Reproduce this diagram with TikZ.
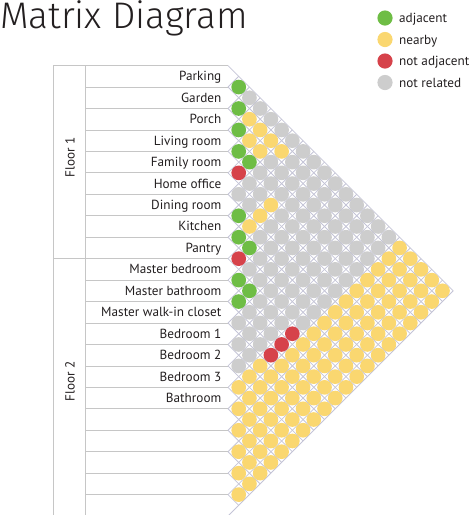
\documentclass[tikz,border=0pt]{standalone}
\usepackage{fontspec}
\setmainfont{PT Sans}
\IfFontExistsTF{Fira Sans Light}{\newfontfamily\titlefont{Fira Sans Light}}{%
  \IfFontExistsTF{Lato Light}{\newfontfamily\titlefont{Lato Light}}{\newfontfamily\titlefont{Liberation Sans}}}
\definecolor{cgreen}{RGB}{110,189,69}
\definecolor{cyellow}{RGB}{250,215,112}
\definecolor{cred}{RGB}{214,66,74}
\definecolor{cgray}{RGB}{205,205,205}
\definecolor{gline}{RGB}{196,196,214}
\definecolor{pline}{RGB}{198,198,198}
\definecolor{ink}{RGB}{35,31,32}
\newcommand\setcell[3]{\expandafter\def\csname cc@#1@#2\endcsname{#3}}
% adjacent
\setcell{0}{1}{cgreen}\setcell{1}{2}{cgreen}\setcell{2}{3}{cgreen}\setcell{3}{4}{cgreen}
\setcell{3}{5}{cgreen}\setcell{6}{7}{cgreen}\setcell{7}{8}{cgreen}\setcell{7}{9}{cgreen}
\setcell{9}{10}{cgreen}\setcell{9}{11}{cgreen}\setcell{10}{11}{cgreen}
% not adjacent
\setcell{4}{5}{cred}\setcell{8}{9}{cred}\setcell{9}{15}{cred}\setcell{10}{15}{cred}\setcell{11}{15}{cred}
% nearby
\setcell{1}{3}{cyellow}\setcell{1}{4}{cyellow}\setcell{1}{5}{cyellow}\setcell{1}{6}{cyellow}
\setcell{2}{4}{cyellow}\setcell{2}{5}{cyellow}\setcell{4}{8}{cyellow}\setcell{5}{8}{cyellow}
\setcell{6}{8}{cyellow}\setcell{12}{15}{cyellow}\setcell{13}{15}{cyellow}\setcell{14}{15}{cyellow}
\begin{document}
\begin{tikzpicture}[x=1pt,y=-1pt,
  gridline/.style={draw=gline,line width=0.8pt},
  panel/.style={draw=pline,line width=0.8pt},
  lbl/.style={font=\fontsize{13.2}{15}\selectfont,text=ink,inner sep=0pt,anchor=base east},
  leg/.style={font=\fontsize{13.2}{15}\selectfont,text=ink,inner sep=0pt,anchor=base west},
  flr/.style={font=\fontsize{13.2}{15}\selectfont,text=ink,inner sep=0pt,anchor=base,rotate=90}]
\useasboundingbox (0,0) rectangle (474,515);
\def\xe{228}\def\ybo{65.6}\def\hh{10.725}
% title
\node[inner sep=0pt,anchor=base west,font=\titlefont\fontsize{37}{42}\selectfont,text=ink] (title) at (0,28) {Matrix Diagram};
% legend
\foreach \c/\t/\y [count=\n] in {cgreen/adjacent/18,cyellow/nearby/39.5,cred/not adjacent/61,cgray/not related/82.5}{
  \fill[\c] (385,\y) circle (7.6);
  \node[leg] (leg\n) at (399,\y+4.5) {\t};
}
% diagonal grid
\foreach \k in {0,...,21}{
  \draw[gridline] (\xe,\ybo+2*\hh*\k) -- ++({(21-\k)*\hh},{(21-\k)*\hh});
  \draw[gridline] (\xe,\ybo+2*\hh*\k) -- ++({\k*\hh},{-\k*\hh});
}
% label panel
\draw[panel] (53,\ybo) -- (\xe,\ybo);
\draw[panel] (53,\ybo) -- (53,520);
\draw[panel] (85,\ybo) -- (85,520);
\foreach \k in {1,...,21}{\draw[panel] (85,\ybo+2*\hh*\k) -- (\xe,\ybo+2*\hh*\k);}
\draw[panel] (53,\ybo+18*\hh) -- (85,\ybo+18*\hh);
% cells
\foreach \i in {0,...,19}{
  \pgfmathtruncatemacro\jstart{\i+1}
  \foreach \j in {\jstart,...,20}{
    \ifnum\j>15 \def\cc{cyellow}\else\def\cc{cgray}\fi
    \ifcsname cc@\i @\j\endcsname \edef\cc{\csname cc@\i @\j\endcsname}\fi
    \fill[\cc] ({\xe+(\j-\i)*\hh},{\ybo+(\i+\j+1)*\hh}) circle (7.35);
  }
}
% row labels
\foreach \t [count=\n from 0] in {Parking,Garden,Porch,Living room,Family room,Home office,Dining room,Kitchen,Pantry,Master bedroom,Master bathroom,Master walk-in closet,Bedroom 1,Bedroom 2,Bedroom 3,Bathroom}{
  \node[lbl] (r\n) at (221.5,{\ybo+(2*\n+1)*\hh+4.5}) {\t};
}
% floors
\node[flr] (floor1) at (74.5,157) {Floor 1};
\node[flr] (floor2) at (74.5,381) {Floor 2};
\end{tikzpicture}
\end{document}
